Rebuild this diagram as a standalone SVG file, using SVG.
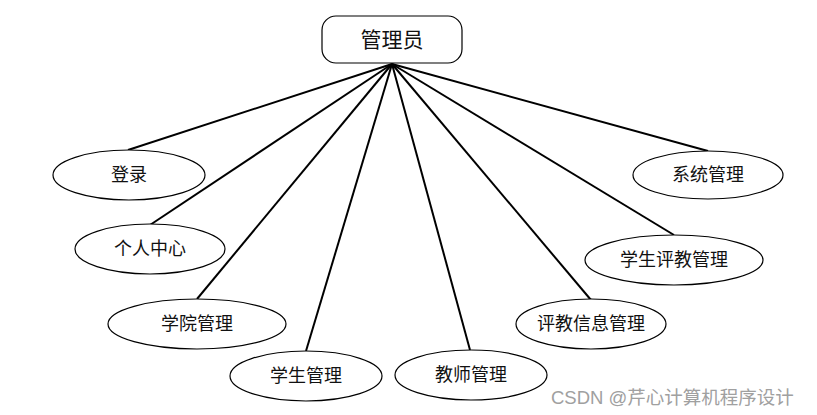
<svg xmlns="http://www.w3.org/2000/svg" width="817" height="415" viewBox="0 0 817 415">
<style>
.n{fill:#fff;stroke:#000;stroke-width:1.2}
.t{font-family:"Liberation Serif","Noto Sans CJK SC",serif;font-size:18px;fill:#111;text-anchor:middle;dominant-baseline:central}
.c line{stroke:#000;stroke-width:2}
.wm{font-family:"Liberation Sans","Noto Sans CJK SC",sans-serif;font-size:18.5px;fill:#a0a0a0}
</style>
<rect width="817" height="415" fill="#fff"/>
<g class="c" id="connectors">
<line x1="392" y1="64" x2="128" y2="150"/>
<line x1="392" y1="64" x2="150" y2="225"/>
<line x1="392" y1="64" x2="197" y2="299"/>
<line x1="392" y1="64" x2="306" y2="351"/>
<line x1="392" y1="64" x2="470" y2="350"/>
<line x1="392" y1="64" x2="591" y2="300"/>
<line x1="392" y1="64" x2="674" y2="235"/>
<line x1="392" y1="64" x2="708" y2="151"/>
</g>
<g id="admin"><rect class="n" x="322" y="16" width="140" height="47" rx="14"/><text class="t" x="392" y="40" style="font-size:21px">管理员</text></g>
<g id="login"><ellipse class="n" cx="129" cy="175" rx="76" ry="25"/><text class="t" x="129" y="175">登录</text></g>
<g id="personal"><ellipse class="n" cx="150" cy="249" rx="75" ry="25"/><text class="t" x="150" y="249">个人中心</text></g>
<g id="college"><ellipse class="n" cx="197" cy="324" rx="89" ry="25"/><text class="t" x="197" y="324">学院管理</text></g>
<g id="student"><ellipse class="n" cx="306" cy="376" rx="76" ry="25"/><text class="t" x="306" y="376">学生管理</text></g>
<g id="teacher"><ellipse class="n" cx="471" cy="375" rx="76" ry="25"/><text class="t" x="471" y="375">教师管理</text></g>
<g id="evalinfo"><ellipse class="n" cx="591" cy="324" rx="75" ry="25"/><text class="t" x="591" y="324">评教信息管理</text></g>
<g id="studeval"><ellipse class="n" cx="674" cy="260" rx="89" ry="25"/><text class="t" x="674" y="260">学生评教管理</text></g>
<g id="system"><ellipse class="n" cx="708" cy="175" rx="75" ry="24"/><text class="t" x="708" y="175">系统管理</text></g>
<text class="wm" x="551" y="404">CSDN @芹心计算机程序设计</text>
</svg>
